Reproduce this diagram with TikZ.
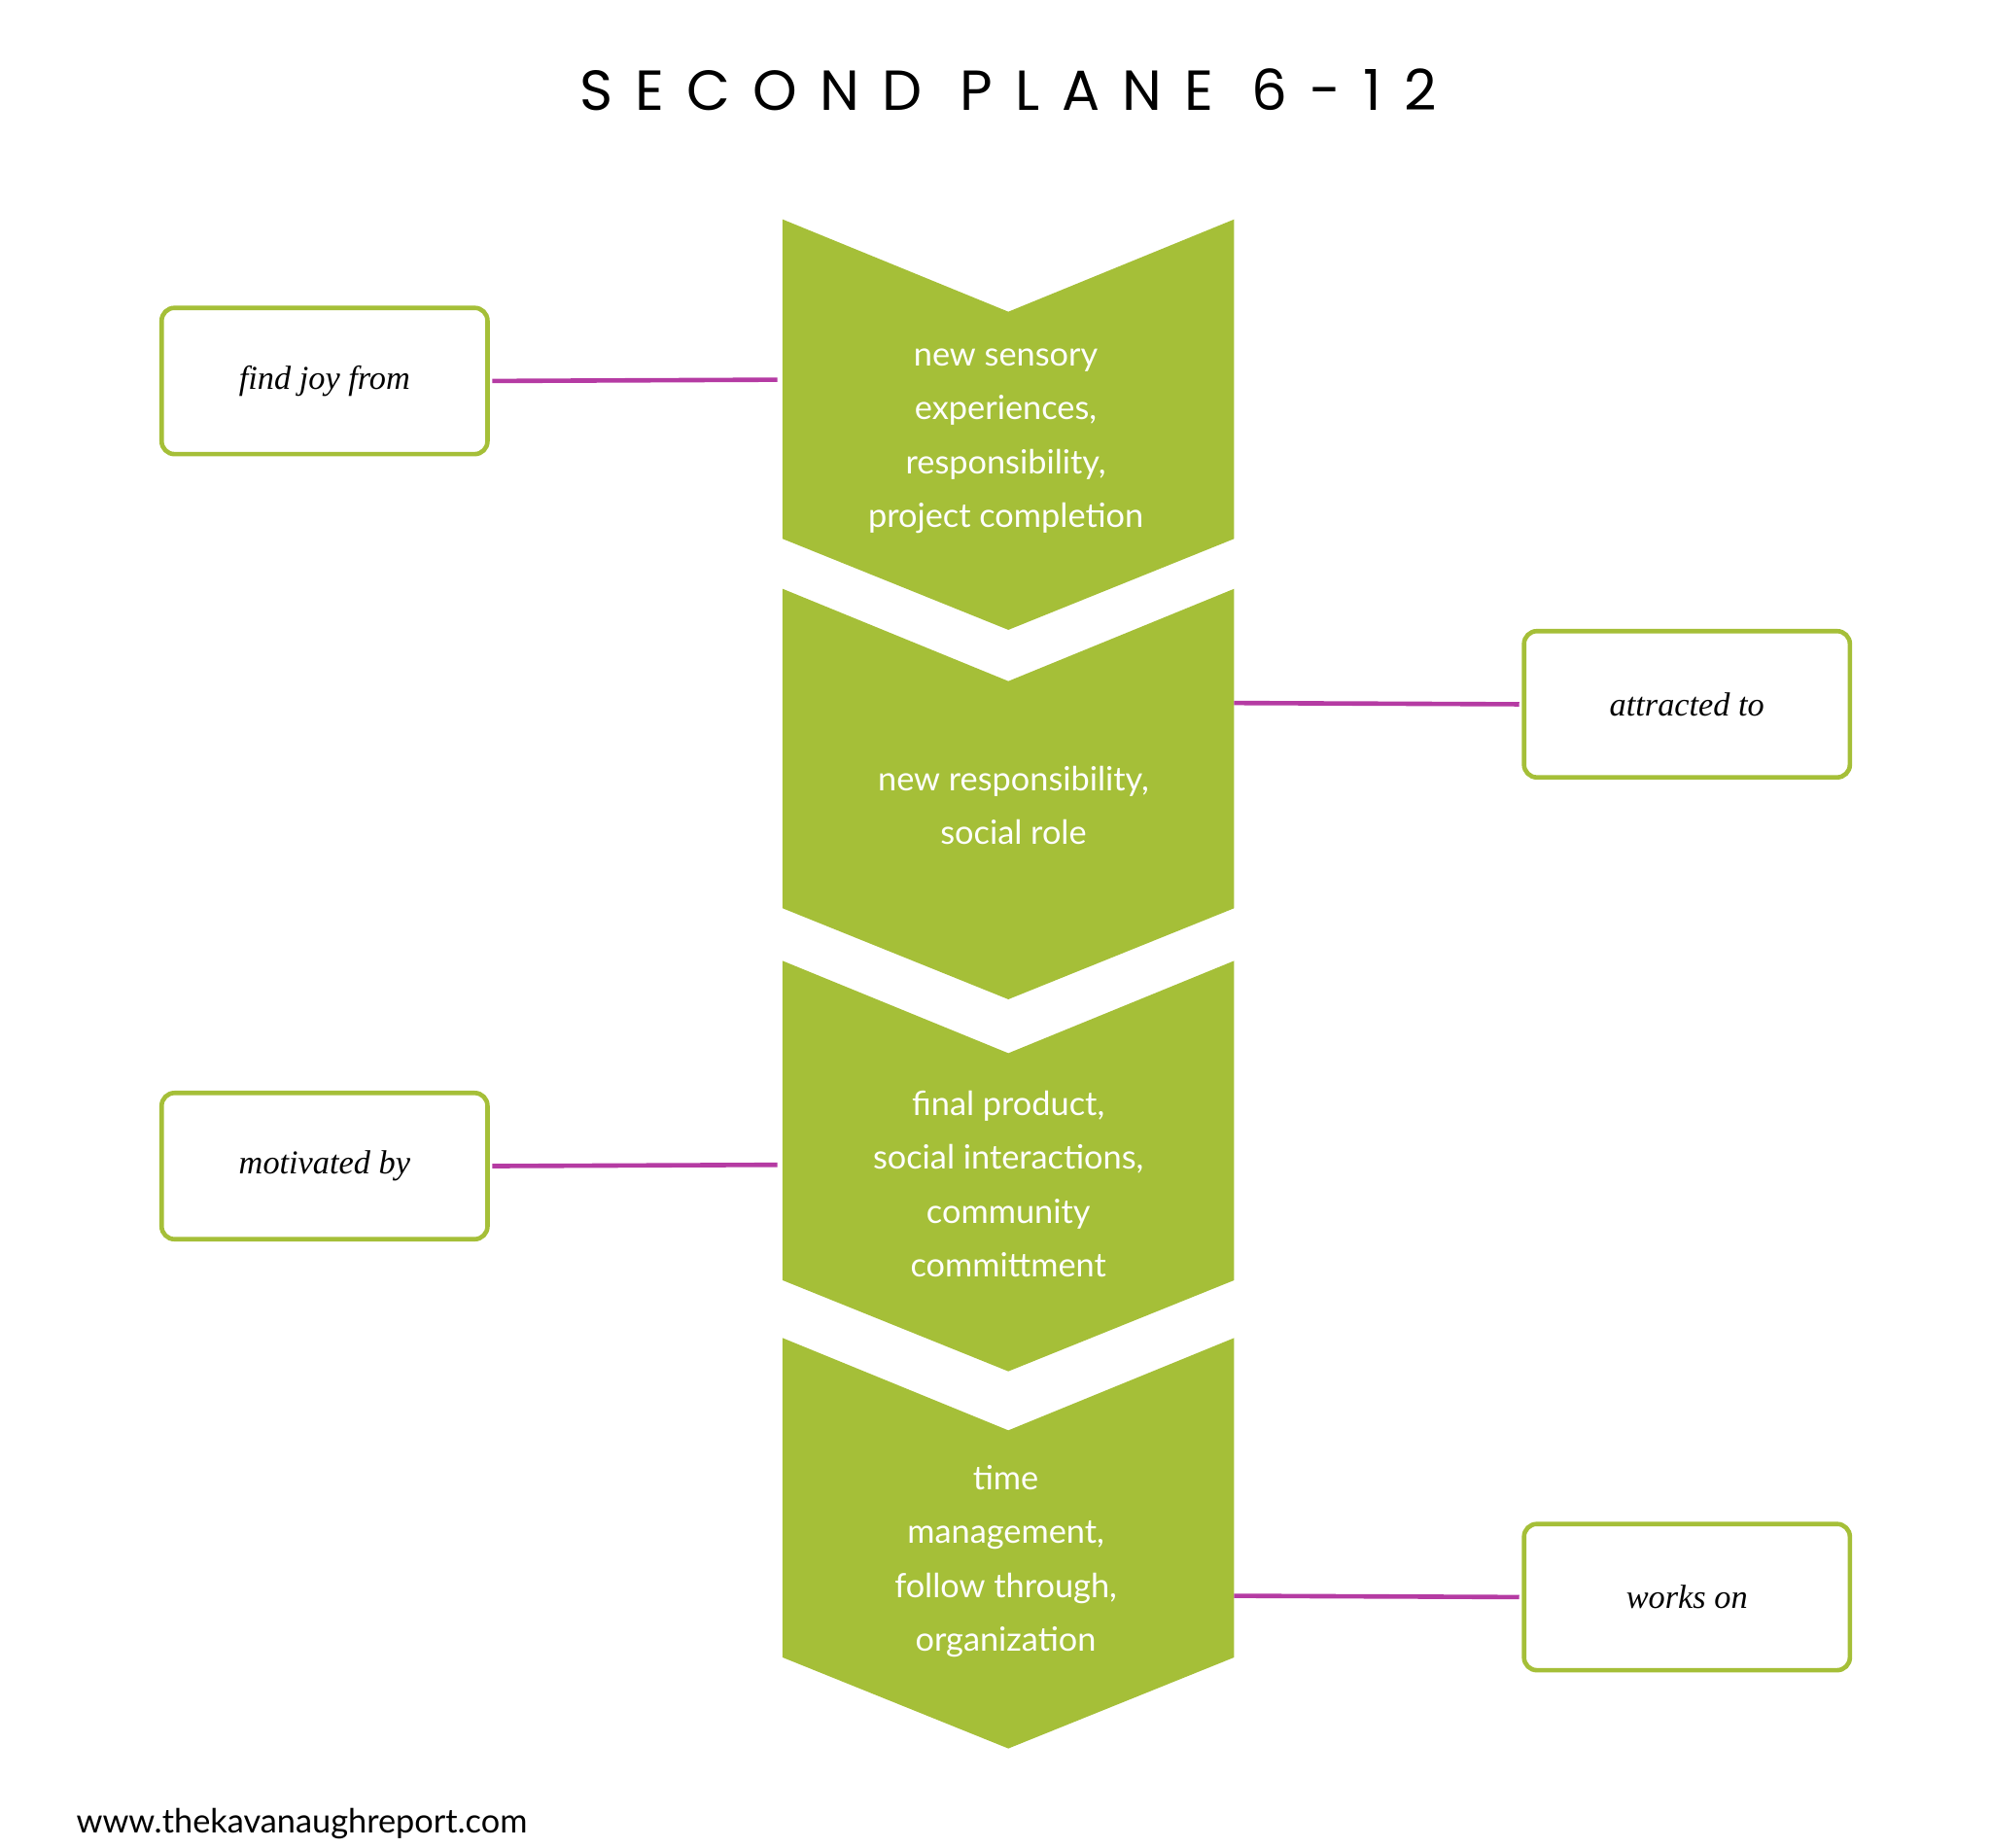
\documentclass[tikz,border=0pt]{standalone}
\usepackage{fontspec}
\setmainfont{Lato}
\newfontfamily\titlefont[LetterSpace=40]{Poppins}
\newfontfamily\handfont{Liberation Serif}
\definecolor{lime}{HTML}{A5BF38}
\definecolor{mag}{HTML}{B53BA3}
\begin{document}
\begin{tikzpicture}[x=1pt,y=-1pt,
  chev/.style={fill=lime,draw=none},
  lbox/.style={draw=lime,line width=3.5pt,rounded corners=10pt,fill=white},
  link/.style={draw=mag,line width=3.5pt},
  body/.style={text=white,font=\fontsize{26}{42}\selectfont,align=center},
  hand/.style={font=\handfont\itshape\fontsize{26}{30}\selectfont}]
\useasboundingbox (0,0) rectangle (1552,1440);
\node[font=\titlefont\fontsize{44}{50}\selectfont] (title) at (786,70) {SECOND PLANE 6-12};
\foreach \t/\n in {171/c1,459/c2,749/c3,1043/c4}{
  \fill[chev] (610,\t) -- (786,\t+72) -- (962,\t) -- (962,\t+249) -- (786,\t+320) -- (610,\t+249) -- cycle;
  \coordinate (\n) at (786,\t);
}
\node[body] (t1) at (784,344) {new sensory\\experiences,\\responsibility,\\project completion};
\node[body] (t2) at (790,628) {new responsibility,\\social role};
\node[body] (t3) at (786,923) {final product,\\social interactions,\\community\\committment};
\node[body] (t4) at (784,1217) {time\\management,\\follow through,\\organization};
\node[lbox,minimum width=254pt,minimum height=114pt,hand] (b1) at (253,297) {find joy from};
\node[lbox,minimum width=254pt,minimum height=114pt,hand] (b2) at (1315,549) {attracted to};
\node[lbox,minimum width=254pt,minimum height=114pt,hand] (b3) at (253,909) {motivated by};
\node[lbox,minimum width=254pt,minimum height=114pt,hand] (b4) at (1315,1245) {works on};
\coordinate (e1) at (606,296); \coordinate (e2) at (962,548);
\coordinate (e3) at (606,908); \coordinate (e4) at (962,1244);
\draw[link] (b1.east) ++(2,0) -- (e1);
\draw[link] (e2) -- ([xshift=-2pt]b2.west);
\draw[link] (b3.east) ++(2,0) -- (e3);
\draw[link] (e4) -- ([xshift=-2pt]b4.west);
\node[anchor=west,font=\fontsize{26}{30}\selectfont] (url) at (56,1422) {www.thekavanaughreport.com};
\end{tikzpicture}
\end{document}
